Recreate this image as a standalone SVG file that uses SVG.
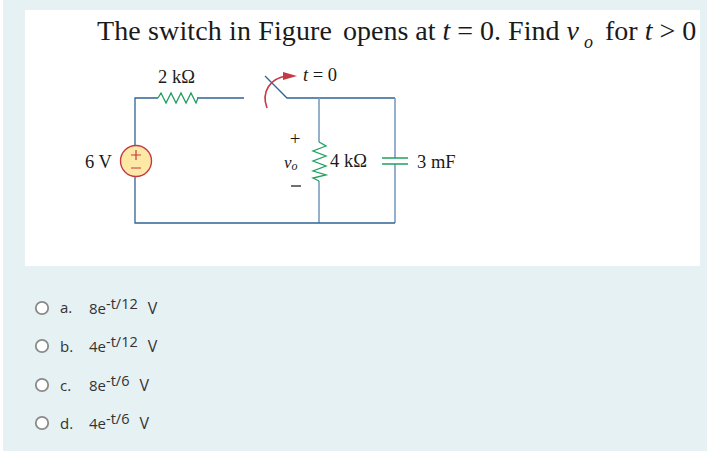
<svg xmlns="http://www.w3.org/2000/svg" width="707" height="452" viewBox="0 0 707 452">
<style>
.t{font-family:"Liberation Serif",serif;fill:#1a1a1a}
.i{font-style:italic}
.o{font-family:"Open Sans",sans-serif;font-size:15px;fill:#333}
.sup{font-family:"Open Sans",sans-serif;font-size:14.5px;fill:#333}
.s{font-size:18.5px}
.w{fill:none;stroke:#2f6496;stroke-width:1.3}
.w2{fill:none;stroke:#7a9dbd;stroke-width:1.6}
.r{fill:none;stroke:#1fa060;stroke-width:1.3}
.radio{fill:#fff;stroke:#8a8a8a;stroke-width:1.8}
</style>
<rect width="707" height="452" fill="#fff"/>
<rect x="3" y="0" width="704" height="451" fill="#e6f1f3"/>
<rect x="25" y="10" width="675" height="256" fill="#fff"/>
<g id="title">
<text class="t" x="97" y="40" font-size="28" textLength="235" lengthAdjust="spacing">The switch in Figure</text>
<text class="t" x="343" y="40" font-size="28">opens at <tspan class="i">t</tspan> = 0. Find <tspan class="i">v</tspan></text>
<text class="t i" x="584" y="48" font-size="18">o</text>
<text class="t" x="605" y="40" font-size="28">for <tspan class="i">t</tspan> &gt; 0</text>
</g>
<g id="connectors">
<path class="w" d="M135 146V98H158M197 98H244"/>
<path class="w" d="M265 76L287 98H395"/>
<path class="w2" d="M319 98V142M319 181V223M395 98V158M395 164V223"/>
<path class="w" d="M135 177V223H395"/>
</g>
<g id="r1">
<path class="r" d="M158 98L161 93L166 103L171 93L176 103L181 93L186 103L191 93L196 103L198 98"/>
<text class="t s" x="158" y="83">2 kΩ</text>
</g>
<g id="switch">
<path d="M267 108C261 92 270 78 287 76" fill="none" stroke="#c43a45" stroke-width="1.6"/>
<path d="M283 72L297 76L283 80Z" fill="#c43a45"/>
<text class="t s" x="303" y="81"><tspan class="i">t</tspan> = 0</text>
</g>
<g id="source">
<circle cx="136" cy="161" r="15.5" fill="#fde9a5" stroke="#c43a45" stroke-width="1.4"/>
<path d="M136 150V160M131 155H141M131 168H141" stroke="#c43a45" stroke-width="1.2" fill="none"/>
<text class="t s" x="85" y="168">6 V</text>
</g>
<g id="r2">
<path class="r" d="M319 142L326 146L313 151L326 156L313 161L326 166L313 171L326 175L313 178L319 181"/>
<text class="t s" x="330" y="167">4 kΩ</text>
</g>
<g id="vo">
<text class="t" x="295" y="145" font-size="19" text-anchor="middle">+</text>
<text class="t i" x="284" y="168" font-size="17">v<tspan font-size="12" dy="2">o</tspan></text>
<path d="M291 186H301" stroke="#222" stroke-width="1.3"/>
</g>
<g id="cap">
<path class="r" d="M382 158H408M382 164H408"/>
<text class="t s" x="417" y="168">3 mF</text>
</g>
<g id="optA"><circle class="radio" cx="42" cy="308" r="6.2"/><text class="o" x="60" y="313">a.</text><text class="o" x="89" y="314">8e<tspan class="sup" dy="-5">-t/12</tspan><tspan dy="5" dx="10" font-size="16">V</tspan></text></g>
<g id="optB"><circle class="radio" cx="42" cy="346" r="6.2"/><text class="o" x="60" y="352">b.</text><text class="o" x="89" y="352">4e<tspan class="sup" dy="-5">-t/12</tspan><tspan dy="5" dx="10" font-size="16">V</tspan></text></g>
<g id="optC"><circle class="radio" cx="42" cy="385" r="6.2"/><text class="o" x="60" y="391">c.</text><text class="o" x="89" y="391">8e<tspan class="sup" dy="-5">-t/6</tspan><tspan dy="5" dx="10" font-size="16">V</tspan></text></g>
<g id="optD"><circle class="radio" cx="42" cy="423" r="6.2"/><text class="o" x="60" y="429">d.</text><text class="o" x="89" y="429">4e<tspan class="sup" dy="-5">-t/6</tspan><tspan dy="5" dx="10" font-size="16">V</tspan></text></g>
</svg>
